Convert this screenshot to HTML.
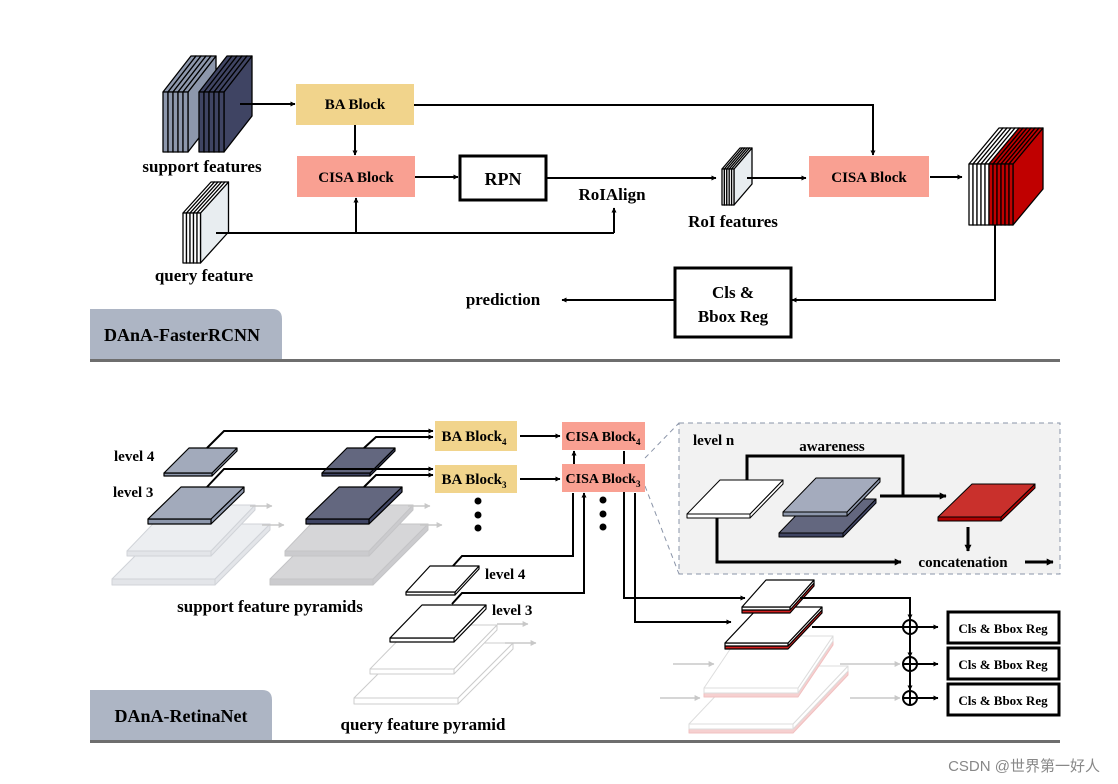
<!DOCTYPE html>
<html><head><meta charset="utf-8"><style>
body{margin:0;background:#fff}
svg{display:block;font-family:"Liberation Serif",serif;font-weight:bold}
</style></head><body>
<svg id="s" width="1118" height="784" viewBox="0 0 1118 784" xmlns="http://www.w3.org/2000/svg">
<defs>
<marker id="a" viewBox="0 0 10 10" refX="9" refY="5" markerWidth="5" markerHeight="5" orient="auto-start-reverse" markerUnits="userSpaceOnUse"><path d="M0,0 L10,5 L0,10 z" fill="#000"/></marker>
<marker id="a2" viewBox="0 0 10 10" refX="9" refY="5" markerWidth="7" markerHeight="7" orient="auto" markerUnits="userSpaceOnUse"><path d="M0,0 L10,5 L0,10 z" fill="#000"/></marker>
<marker id="ag" viewBox="0 0 10 10" refX="9" refY="5" markerWidth="6" markerHeight="6" orient="auto" markerUnits="userSpaceOnUse"><path d="M0,0 L10,5 L0,10 z" fill="#c8c8c8"/></marker>
</defs>
<g id="g"></g>
<g stroke="#000" stroke-width="2" fill="none">
<line x1="240" y1="104" x2="295" y2="104" marker-end="url(#a)"/>
<polyline points="414,105 873,105 873,155" marker-end="url(#a)"/>
<line x1="355" y1="125" x2="355" y2="155" marker-end="url(#a)"/>
<line x1="415" y1="177" x2="458" y2="177" marker-end="url(#a)"/>
<line x1="546" y1="178" x2="716" y2="178" marker-end="url(#a)"/>
<line x1="216" y1="233" x2="614" y2="233"/>
<line x1="356" y1="233" x2="356" y2="198" marker-end="url(#a)"/>
<line x1="614" y1="233" x2="614" y2="208" marker-end="url(#a)"/>
<line x1="747" y1="178" x2="806" y2="178" marker-end="url(#a)"/>
<line x1="930" y1="177" x2="962" y2="177" marker-end="url(#a)"/>
<polyline points="995,225 995,300 792,300" marker-end="url(#a)"/>
<line x1="674" y1="300" x2="562" y2="300" marker-end="url(#a)"/>
</g>
<rect x="296" y="84" width="118" height="41" fill="#f1d48c"/>
<text x="355" y="109" font-size="15" text-anchor="middle">BA Block</text>
<rect x="297" y="156" width="118" height="41" fill="#f9a092"/>
<text x="356" y="182" font-size="15" text-anchor="middle">CISA Block</text>
<rect x="460" y="156" width="86" height="44" fill="#fff" stroke="#000" stroke-width="3"/>
<text x="503" y="185" font-size="18" text-anchor="middle">RPN</text>
<text x="612" y="200" font-size="17" text-anchor="middle">RoIAlign</text>
<rect x="809" y="156" width="120" height="41" fill="#f9a092"/>
<text x="869" y="182" font-size="15" text-anchor="middle">CISA Block</text>
<rect x="675" y="268" width="116" height="69" fill="#fff" stroke="#000" stroke-width="3"/>
<text x="733" y="298" font-size="17" text-anchor="middle">Cls &amp;</text>
<text x="733" y="322" font-size="17" text-anchor="middle">Bbox Reg</text>
<text x="202" y="172" font-size="17" text-anchor="middle">support features</text>
<text x="204" y="281" font-size="17" text-anchor="middle">query feature</text>
<text x="733" y="227" font-size="17" text-anchor="middle">RoI features</text>
<text x="503" y="305" font-size="17" text-anchor="middle">prediction</text>
<path d="M90,309 H272 Q282,309 282,319 V360 H90 Z" fill="#adb5c4"/>
<text x="182" y="341" font-size="18" text-anchor="middle">DAnA-FasterRCNN</text>
<rect x="90" y="359" width="970" height="3" fill="#6e6e6e"/>
<rect x="679" y="423" width="381" height="151" fill="#f2f2f2" stroke="#8a94a8" stroke-dasharray="5,4"/>
<line x1="645" y1="458" x2="679" y2="423" stroke="#8a94a8" stroke-dasharray="5,4"/>
<line x1="645" y1="486" x2="679" y2="574" stroke="#8a94a8" stroke-dasharray="5,4"/>
<path d="M90,690 H262 Q272,690 272,700 V741 H90 Z" fill="#adb5c4"/>
<text x="181" y="722" font-size="18" text-anchor="middle">DAnA-RetinaNet</text>
<rect x="90" y="740" width="970" height="3" fill="#6e6e6e"/>
<g id="g2"></g>
<g stroke="#000" stroke-width="2" fill="none">
<polyline points="207,448 224,431 433,431" marker-end="url(#a)"/>
<polyline points="364,448 376,437 433,437" marker-end="url(#a)"/>
<polyline points="207,487 224,469 433,469" marker-end="url(#a)"/>
<polyline points="364,487 376,475 433,475" marker-end="url(#a)"/>
<line x1="520" y1="436" x2="560" y2="436" marker-end="url(#a)"/>
<line x1="520" y1="479" x2="560" y2="479" marker-end="url(#a)"/>
<line x1="574" y1="464" x2="574" y2="451" marker-end="url(#a)"/>
<polyline points="453,566 462,556 573,556 573,493"/>
<polyline points="452,604 462,593 584,593 584,493" marker-end="url(#a)"/>
<polyline points="624,451 624,598 745,598" marker-end="url(#a)"/>
<polyline points="635,493 635,622 731,622" marker-end="url(#a)"/>
<polyline points="800,598 910,598 910,619" marker-end="url(#a)"/>
<line x1="812" y1="627" x2="903" y2="627"/>
<line x1="910" y1="634" x2="910" y2="657" marker-end="url(#a)"/>
<line x1="910" y1="672" x2="910" y2="690" marker-end="url(#a)"/>
<line x1="917" y1="627" x2="938" y2="627" marker-end="url(#a)"/>
<line x1="917" y1="664" x2="938" y2="664" marker-end="url(#a)"/>
<line x1="917" y1="698" x2="938" y2="698" marker-end="url(#a)"/>
<circle cx="910" cy="627" r="7"/><line x1="903" y1="627" x2="917" y2="627"/><line x1="910" y1="620" x2="910" y2="634"/>
<circle cx="910" cy="664" r="7"/><line x1="903" y1="664" x2="917" y2="664"/><line x1="910" y1="657" x2="910" y2="671"/>
<circle cx="910" cy="698" r="7"/><line x1="903" y1="698" x2="917" y2="698"/><line x1="910" y1="691" x2="910" y2="705"/>
</g>
<g stroke="#000" stroke-width="3" fill="none">
<polyline points="747,480 747,456 903,456 903,496"/>
<line x1="880" y1="496" x2="946" y2="496" marker-end="url(#a2)"/>
<line x1="968" y1="527" x2="968" y2="551" marker-end="url(#a2)"/>
<polyline points="717,518 717,562 901,562" marker-end="url(#a2)"/>
<line x1="1025" y1="562" x2="1053" y2="562" marker-end="url(#a2)"/>
</g>
<g stroke="#c8c8c8" stroke-width="1.5">
<line x1="250" y1="506" x2="272" y2="506" marker-end="url(#ag)"/>
<line x1="262" y1="525" x2="284" y2="525" marker-end="url(#ag)"/>
<line x1="408" y1="506" x2="430" y2="506" marker-end="url(#ag)"/>
<line x1="420" y1="525" x2="442" y2="525" marker-end="url(#ag)"/>
<line x1="497" y1="624" x2="528" y2="624" marker-end="url(#ag)"/>
<line x1="505" y1="643" x2="536" y2="643" marker-end="url(#ag)"/>
<line x1="673" y1="664" x2="714" y2="664" marker-end="url(#ag)"/>
<line x1="660" y1="698" x2="700" y2="698" marker-end="url(#ag)"/>
<line x1="840" y1="664" x2="900" y2="664" marker-end="url(#ag)"/>
<line x1="850" y1="698" x2="900" y2="698" marker-end="url(#ag)"/>
</g>
<rect x="435" y="421" width="82" height="30" fill="#f1d48c"/>
<text x="474" y="441" font-size="15" text-anchor="middle">BA Block<tspan font-size="9" dy="4">4</tspan></text>
<rect x="435" y="465" width="82" height="28" fill="#f1d48c"/>
<text x="474" y="484" font-size="15" text-anchor="middle">BA Block<tspan font-size="9" dy="4">3</tspan></text>
<rect x="562" y="422" width="83" height="28" fill="#f9a092"/>
<text x="603" y="441" font-size="14" text-anchor="middle">CISA Block<tspan font-size="9" dy="4">4</tspan></text>
<rect x="562" y="464" width="83" height="28" fill="#f9a092"/>
<text x="603" y="483" font-size="14" text-anchor="middle">CISA Block<tspan font-size="9" dy="4">3</tspan></text>
<g fill="#000"><circle cx="478" cy="501" r="3.5"/><circle cx="478" cy="515" r="3.5"/><circle cx="478" cy="528" r="3.5"/>
<circle cx="603" cy="500" r="3.5"/><circle cx="603" cy="514" r="3.5"/><circle cx="603" cy="527" r="3.5"/></g>
<text x="114" y="461" font-size="15">level 4</text>
<text x="113" y="497" font-size="15">level 3</text>
<text x="485" y="579" font-size="15">level 4</text>
<text x="492" y="615" font-size="15">level 3</text>
<text x="270" y="612" font-size="17" text-anchor="middle">support feature pyramids</text>
<text x="423" y="730" font-size="17" text-anchor="middle">query feature pyramid</text>
<text x="693" y="445" font-size="15">level n</text>
<text x="832" y="451" font-size="15" text-anchor="middle">awareness</text>
<text x="963" y="567" font-size="15" text-anchor="middle">concatenation</text>
<g stroke="#000" stroke-width="3" fill="#fff">
<rect x="948" y="612" width="111" height="31"/><rect x="948" y="648" width="111" height="31"/><rect x="948" y="684" width="111" height="31"/></g>
<text x="1003" y="633" font-size="13" text-anchor="middle">Cls &amp; Bbox Reg</text>
<text x="1003" y="669" font-size="13" text-anchor="middle">Cls &amp; Bbox Reg</text>
<text x="1003" y="705" font-size="13" text-anchor="middle">Cls &amp; Bbox Reg</text>
<text x="1100" y="771" font-size="15" text-anchor="end" font-weight="normal" fill="#888" style="font-family:'Liberation Sans','Noto Sans CJK SC',sans-serif">CSDN @世界第一好人</text>
</svg>
<script>
var NS="http://www.w3.org/2000/svg",G=document.getElementById("g"),G2=document.getElementById("g2");
function P(par,pts,fill,stroke,sw){var e=document.createElementNS(NS,"polygon");e.setAttribute("points",pts.map(function(p){return p[0]+","+p[1]}).join(" "));e.setAttribute("fill",fill);e.setAttribute("stroke",stroke||"#000");e.setAttribute("stroke-width",sw||1);e.setAttribute("stroke-linejoin","round");par.appendChild(e);}
function stack(x,y,h,t,n,dx,dy,ff,sf,tf){for(var i=0;i<n;i++){var X=x+i*t;var f=typeof ff=="function"?ff(i):ff,s=typeof sf=="function"?sf(i):sf,tt=typeof tf=="function"?tf(i):tf;
P(G,[[X+t,y],[X+t+dx,y-dy],[X+t+dx,y-dy+h],[X+t,y+h]],s,"#000",1.3);
P(G,[[X,y],[X+t,y],[X+t+dx,y-dy],[X+dx,y-dy]],tt,"#000",1.3);
P(G,[[X,y],[X+t,y],[X+t,y+h],[X,y+h]],f,"#000",1.3);}}
stack(163,92,60,5,5,28,36,"#8d97ac","#8d97ac","#8d97ac");
stack(199,92,60,5,5,28,36,"#3f4463","#3f4463","#3f4463");
stack(183,213,50,3.5,5,28,31,"#fff","#e8edf0","#fff");
stack(722,169,36,2.4,5,18,21,"#fff","#e8edf0","#fff");
var red=function(i){return i<5?"#fff":"#c00000"};
stack(969,164,61,4,11,30,36,red,red,red);
function plate(x,y,w,dx,dy,th,top,front,stroke,sw,red){
 if(red){P(G2,[[x,y+th],[x+w,y+th],[x+w+dx,y-dy+th],[x+w+dx,y-dy+th+red[1]],[x+w,y+th+red[1]],[x,y+th+red[1]]],red[0],red[2]||stroke,sw);}
 P(G2,[[x+w,y],[x+w+dx,y-dy],[x+w+dx,y-dy+th],[x+w,y+th]],front,stroke,sw);
 P(G2,[[x,y],[x+w,y],[x+w,y+th],[x,y+th]],front,stroke,sw);
 P(G2,[[x,y],[x+w,y],[x+w+dx,y-dy],[x+dx,y-dy]],top,stroke,sw);}
plate(112,579,103,55,55,6,"#eceef1","#e3e5e9","#d0d3d8",1);
plate(127,551,84,44,46,5,"#eceef1","#e3e5e9","#d0d3d8",1);
plate(270,579,103,55,55,6,"#d6d6d8","#cbcbce","#c4c4c6",1);
plate(285,551,84,44,46,5,"#d6d6d8","#cbcbce","#c4c4c6",1);
plate(148,519,63,33,32,5,"#a2aabb","#8d97ac","#000",1.2);
plate(164,473,48,25,25,3,"#a2aabb","#8d97ac","#000",1.2);
plate(306,519,63,33,32,5,"#63677f","#3f4463","#000",1.2);
plate(322,473,48,25,25,3,"#63677f","#3f4463","#000",1.2);
plate(354,698,104,55,55,6,"#fff","#fff","#ccc",1);
plate(370,669,84,43,44,5,"#fff","#fff","#ccc",1);
plate(390,638,64,32,33,4,"#fff","#fff","#000",1.2);
plate(406,592,49,24,26,3,"#fff","#fff","#000",1.2);
plate(689,724,104,55,58,5,"#fff","#fff","#ddd",1,["#f6d0d0",4,"#f0c0c0"]);
plate(704,688,94,35,52,5,"#fff","#fff","#ddd",1,["#f6d0d0",4,"#f0c0c0"]);
plate(725,643,63,34,36,3,"#fff","#fff","#000",1.2,["#d42020",3]);
plate(742,607,48,24,27,3,"#fff","#fff","#000",1.2,["#d42020",3]);
plate(687,514,63,33,34,4,"#fff","#fff","#000",1);
plate(779,533,64,33,34,4,"#63677f","#3f4463","#000",1);
plate(783,512,64,33,34,4,"#a4abbd","#8d97ac","#000",1);
plate(938,517,63,34,33,4,"#c9302c","#b00000","#000",1);
</script>
</body></html>
